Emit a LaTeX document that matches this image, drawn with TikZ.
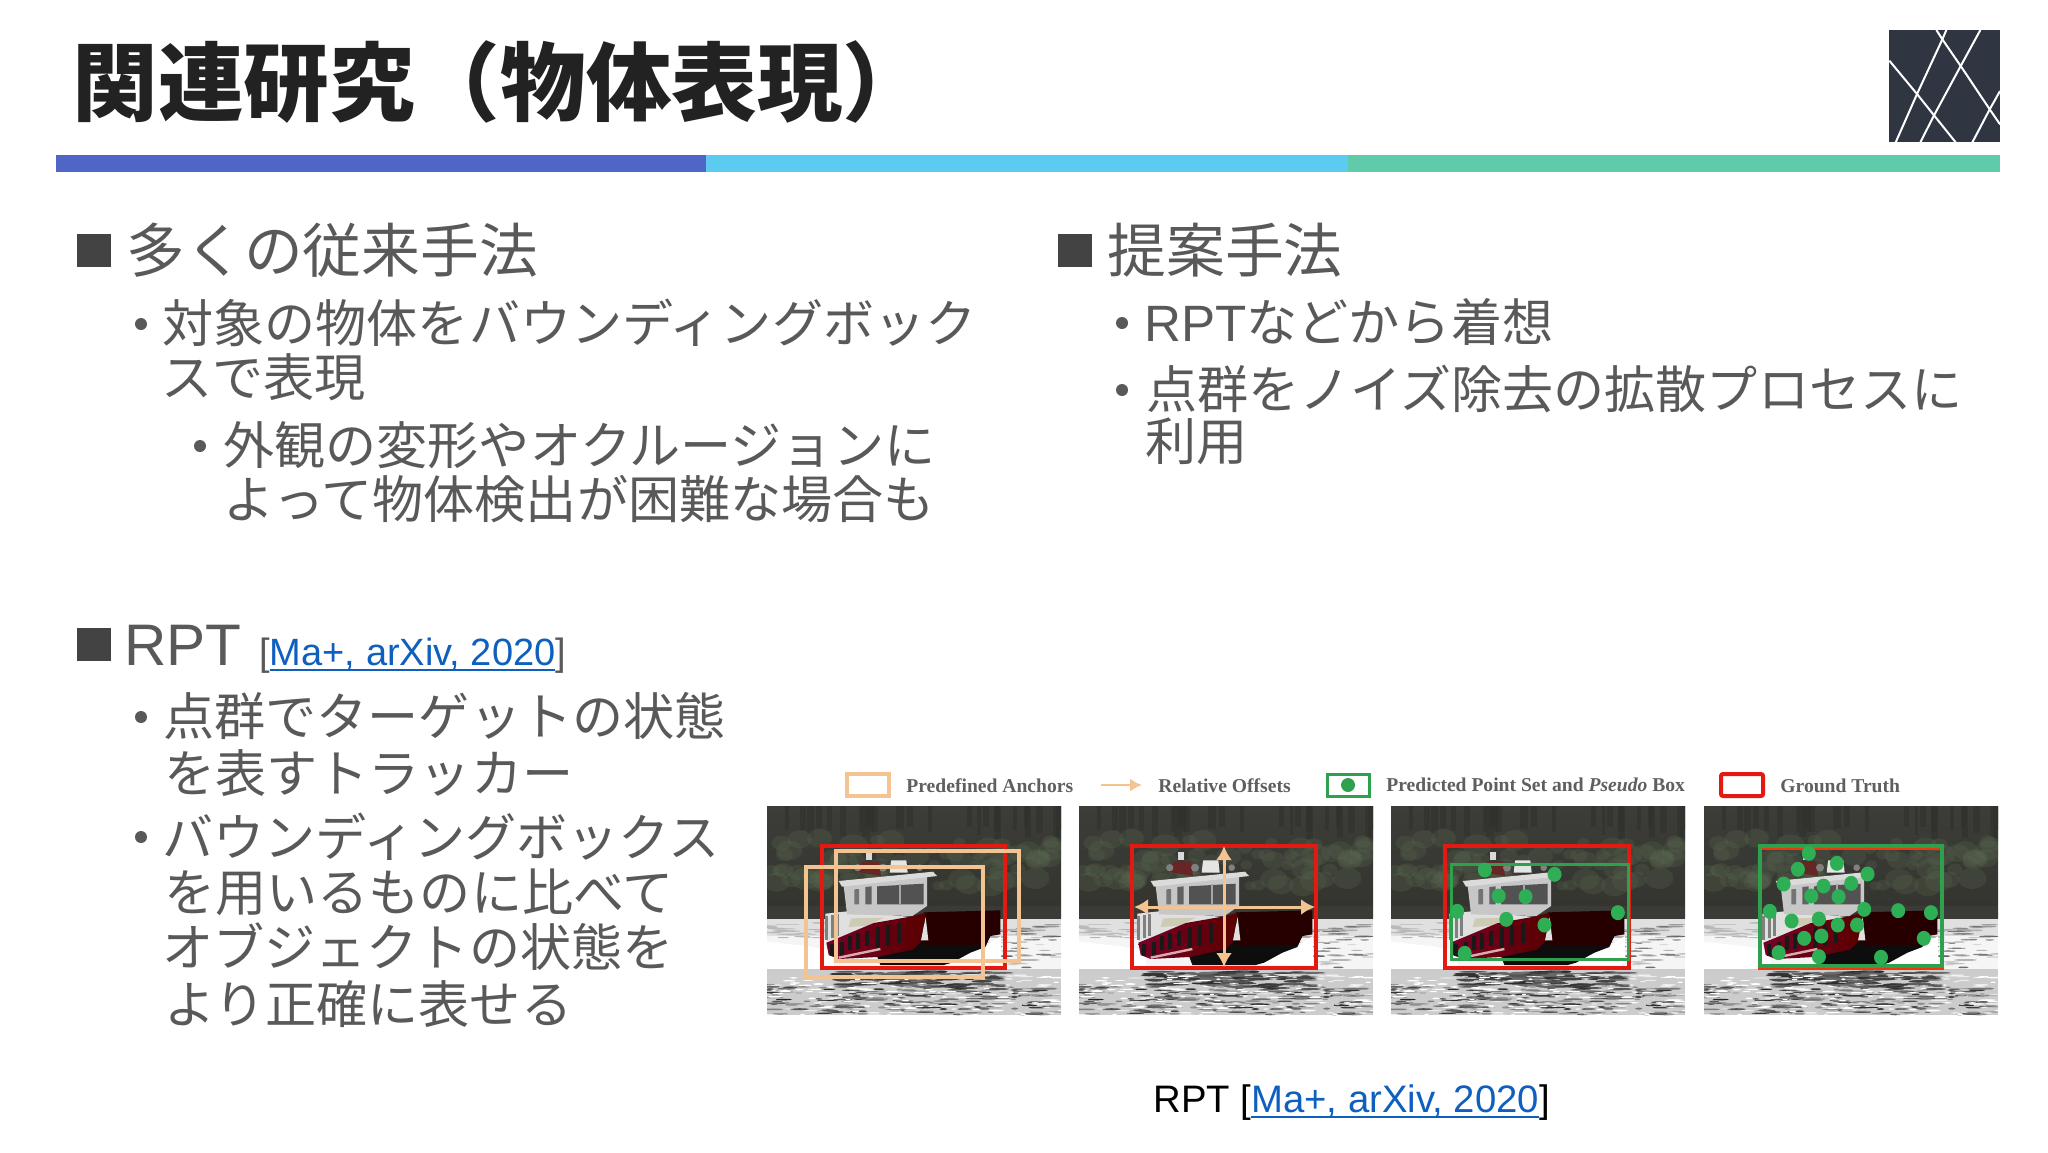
\documentclass[tikz,border=0pt]{standalone}
\usepackage{fontspec}
\usetikzlibrary{arrows.meta}
\setmainfont{Liberation Sans}
\newfontfamily\cjk{Noto Sans CJK JP}
\newfontfamily\lat{Liberation Sans}
\newfontfamily\serifl{Liberation Serif}
\definecolor{bodygray}{HTML}{595959}
\definecolor{sqgray}{HTML}{434343}
\definecolor{titleblack}{HTML}{222222}
\definecolor{barblue}{HTML}{4F66C6}
\definecolor{barsky}{HTML}{5CCBF0}
\definecolor{barteal}{HTML}{5FCBAB}
\definecolor{linkblue}{HTML}{0F5FBE}
\definecolor{peach}{HTML}{F3C391}
\definecolor{boxred}{HTML}{E31A12}
\definecolor{boxgreen}{HTML}{2FA04E}
\definecolor{dotgreen}{HTML}{2FAF55}
\definecolor{logobg}{HTML}{2F3642}
\definecolor{legendgray}{HTML}{5F5F5F}
\definecolor{foresttop}{HTML}{3C3D38}
\definecolor{forestmid}{HTML}{4A5043}
\definecolor{forestlow}{HTML}{34342F}
\definecolor{forestblob}{HTML}{5A6A50}
\definecolor{trunk}{HTML}{30312D}
\definecolor{shore}{HTML}{3A3A36}
\newcommand{\lnk}[2]{\setbox0=\hbox{#2}{\color{linkblue}\rlap{\rule[#1]{\wd0}{1pt}}#2}}
\tikzset{
  txt/.style={inner sep=0pt,anchor=base west,text=bodygray},
  lvlone/.style={txt,font=\cjk\fontsize{29.4pt}{30pt}\selectfont},
  lvltwo/.style={txt,font=\cjk\fontsize{25.55pt}{30pt}\selectfont},
  sq/.style={fill=sqgray,draw=none},
  bul/.style={circle,fill=bodygray,draw=none,inner sep=0pt,minimum size=6pt},
  leg/.style={inner sep=0pt,anchor=base west,text=legendgray,font=\serifl\bfseries\fontsize{9.8pt}{11pt}\selectfont},
  redbox/.style={draw=boxred,line width=2pt},
  peachbox/.style={draw=peach,line width=1.6pt},
  greenbox/.style={draw=boxgreen,line width=1.5pt},
  peacharrow/.style={draw=peach,line width=1.5pt,{Latex[length=7pt,width=8pt]}-{Latex[length=7pt,width=8pt]}},
  logoline/.style={draw=white,line width=1pt},
}
\newcommand{\boatscene}[1]{%
\begin{scope}[shift={(#1,821)},x=.16667pt,y=-.16667pt]
\begin{scope}
\clip (0,-45) rectangle (882,582);
% forest
\shade[top color=foresttop,middle color=forestmid,bottom color=forestlow] (0,-45) rectangle (882,290);
\pgfmathsetseed{7}
\foreach \i in {1,...,26}{
  \pgfmathsetmacro\tx{rnd*882}
  \fill[trunk,opacity=.6] (\tx,-45) rectangle ++(10+rnd*14,60+rnd*50);
}
\foreach \i in {1,...,70}{
  \pgfmathsetmacro\tx{rnd*882}
  \pgfmathsetmacro\ty{50+rnd*150}
  \pgfmathsetmacro\tr{18+rnd*26}
  \fill[forestblob,opacity=.25] (\tx,\ty) ellipse ({\tr} and {\tr*.75});
}
\fill[shore] (0,255) rectangle (882,298);
% water
\fill[black!12] (0,295) rectangle (882,450);
\fill[black!4] (0,345) -- (882,345) -- (882,445) -- (0,445) -- cycle;
\fill[white] (0,362) -- (120,375) -- (200,390) -- (200,445) -- (0,445) -- cycle;
\fill[black!20] (0,445) rectangle (882,582);
\foreach \i in {1,...,70}{
  \pgfmathsetmacro\tx{620+rnd*262}
  \pgfmathsetmacro\ty{305+rnd*135}
  \pgfmathsetmacro\tk{20+rnd*45}
  \fill[black!\tk] (\tx,\ty) ellipse ({10+rnd*24} and {1+rnd*1.8});
}
\foreach \i in {1,...,20}{
  \pgfmathsetmacro\tx{rnd*180}
  \pgfmathsetmacro\ty{305+rnd*45}
  \fill[black!28] (\tx,\ty) ellipse ({14+rnd*30} and {1+rnd*1.5});
}
\foreach \i in {1,...,110}{
  \pgfmathsetmacro\tx{220+rnd*480}
  \pgfmathsetmacro\ty{452+rnd*45}
  \pgfmathsetmacro\tk{55+rnd*30}
  \fill[black!\tk] (\tx,\ty) ellipse ({14+rnd*30} and {1.5+rnd*3});
}
\foreach \i in {1,...,210}{
  \pgfmathsetmacro\tx{rnd*882}
  \pgfmathsetmacro\ty{490+rnd*92}
  \pgfmathsetmacro\tk{35+rnd*50}
  \fill[black!\tk] (\tx,\ty) ellipse ({8+rnd*24} and {1+rnd*2.2});
}
\foreach \i in {1,...,150}{
  \pgfmathsetmacro\tx{rnd*882}
  \pgfmathsetmacro\ty{460+rnd*122}
  \fill[white] (\tx,\ty) ellipse ({6+rnd*20} and {1+rnd*1.6});
}
% spray behind stern
\fill[white] (530,430) -- (660,372) -- (702,345) -- (702,432) -- cycle;
% hull shadow
\fill[black!95] (330,405) -- (470,350) -- (670,345) -- (655,378) -- (610,395) -- (555,425) -- (530,432) -- (340,432) -- cycle;
% dark hull
\fill[black!85!red] (470,274) -- (700,268) -- (700,340) -- (670,345) -- (655,372) -- (470,372) -- cycle;
% bow and cream deck
\fill[black!12] (175,278) -- (250,270) -- (430,288) -- (320,306) -- (225,345) -- (178,362) -- cycle;
\fill[yellow!35!black!35] (252,292) -- (350,290) -- (300,314) -- (245,318) -- cycle;
\draw[black!50,line width=1.5pt] (178,285) -- (178,358) (195,282) -- (195,350) (212,280) -- (212,345);
% red side
\shade[left color=red!55!black!85!blue,right color=red!35!black] (178,365) -- (225,346) -- (320,306) -- (430,287) -- (475,275) -- (465,358) -- (440,385) -- (330,408) -- (215,414) -- (185,402) -- cycle;
\foreach \sx/\st/\sb in {190/370/405,218/362/405,242/345/388,268/335/385,295/330/375,326/318/380,357/312/375,390/305/365}{
  \fill[black!90] (\sx,\st) rectangle ++(12,\sb-\st);
}
\draw[red!25!white!70!gray,line width=1.2pt] (215,410) -- (340,384);
\fill[black!12] (462,358) -- (484,358) -- (476,288) -- cycle;
% cabin
\fill[black!22] (230,195) -- (480,162) -- (480,255) -- (436,285) -- (240,280) -- cycle;
\fill[black!14] (215,180) -- (498,152) -- (510,165) -- (225,197) -- cycle;
\fill[black!68] (330,196) -- (470,188) -- (470,250) -- (330,250) -- cycle;
\fill[black!62] (295,198) -- (314,196) -- (314,250) -- (295,250) -- cycle;
\fill[black!55] (262,205) -- (276,204) -- (276,250) -- (262,250) -- cycle;
\fill[black!35] (395,190) rectangle (402,250);
% rooftop
\fill[red!30!black!85] (265,152) -- (285,122) -- (335,120) -- (342,165) -- cycle;
\fill[black!10] (368,155) -- (372,118) -- (418,118) -- (422,155) -- cycle;
\fill[black!15] (298,92) rectangle (316,118);
\fill[black!50] (272,140) circle (11);
\fill[black!50] (348,140) circle (12);
\fill[black!50] (458,140) circle (10);
\end{scope}
\end{scope}}
\begin{document}
\begin{tikzpicture}[x=.5pt,y=-.5pt]
\useasboundingbox[fill=white] (0,0) rectangle (2048,1152);
% title
\node[txt,anchor=base west,text=titleblack,font=\cjk\bfseries\fontsize{42.8pt}{46pt}\selectfont] (title) at (72,114) {関連研究（物体表現）};
% bars
\fill[barblue] (56,155) rectangle (706,172);
\fill[barsky] (706,155) rectangle (1348,172);
\fill[barteal] (1348,155) rectangle (2000,172);
% logo
\begin{scope}[shift={(1848,10)},x=.16667pt,y=-.16667pt]
\fill[logobg] (124,60) rectangle (456,397);
\draw[logoline] (265,60) -- (283,88) -- (338,168) -- (425,298) -- (456,343);
\draw[logoline] (295,60) -- (283,88) -- (207,252) -- (143,397);
\draw[logoline] (397,60) -- (338,168) -- (258,316) -- (217,397);
\draw[logoline] (124,152) -- (207,252) -- (258,316) -- (323,397);
\draw[logoline] (456,243) -- (425,298) -- (373,397);
\end{scope}
% left upper
\fill[sq] (77,234) rectangle (111,267);
\node[lvlone] (a1) at (126,272) {多くの従来手法};
\node[bul] (b1) at (141,324) {};
\node[lvltwo] (a2) at (162,342) {対象の物体をバウンディングボック};
\node[lvltwo] (a3) at (161,396) {スで表現};
\node[bul] (b2) at (200,446) {};
\node[lvltwo] (a4) at (223,464) {外観の変形やオクルージョンに};
\node[lvltwo] (a5) at (223,518) {よって物体検出が困難な場合も};
% right upper
\fill[sq] (1058,234) rectangle (1092,267);
\node[lvlone] (c1) at (1107,272) {提案手法};
\node[bul] (b3) at (1122,323) {};
\node[lvltwo] (c2) at (1144,341) {{\lat RPT}などから着想};
\node[bul] (b4) at (1122,390) {};
\node[lvltwo] (c3) at (1146,408) {点群をノイズ除去の拡散プロセスに};
\node[lvltwo] (c4) at (1145,460) {利用};
% left lower
\fill[sq] (77,628) rectangle (111,661);
\node[txt,font=\lat\fontsize{29.3pt}{30pt}\selectfont] (d0) at (124,665) {RPT};
\node[txt,font=\lat\fontsize{19pt}{22pt}\selectfont] (d0b) at (259,665) {[\lnk{-3pt}{Ma+, arXiv, 2020}]};
\node[bul] (b5) at (141,717) {};
\node[lvltwo] (d1) at (163,735) {点群でターゲットの状態};
\node[lvltwo] (d2) at (164,792) {を表すトラッカー};
\node[bul] (b6) at (141,837) {};
\node[lvltwo] (d3) at (162,856) {バウンディングボックス};
\node[lvltwo] (d4) at (164,911) {を用いるものに比べて};
\node[lvltwo] (d5) at (162,966) {オブジェクトの状態を};
\node[lvltwo] (d6) at (164,1023) {より正確に表せる};
% caption
\node[inner sep=0pt,anchor=base west,text=black,font=\lat\fontsize{19.15pt}{22pt}\selectfont] (cap) at (1153,1112) {RPT [\lnk{-3pt}{Ma+, arXiv, 2020}]};
% legend
\draw[peachbox] (847,774) rectangle (889,796);
\node[leg] (l1) at (906,792) {Predefined Anchors};
\coordinate (la) at (1101,785);
\coordinate (lb) at (1142,785);
\draw[draw=peach,line width=1.3pt,-{Latex[length=6pt,width=6.5pt]}] (la) -- (lb);
\node[leg] (l2) at (1158,792) {Relative Offsets};
\draw[greenbox] (1327,774) rectangle (1369,796);
\fill[boxgreen] (1348,785) circle (7);
\node[leg] (l3) at (1386,791) {Predicted Point Set and \textit{Pseudo} Box};
\draw[draw=boxred,line width=2pt,rounded corners=1pt] (1721,774) rectangle (1763,796);
\node[leg] (l4) at (1780,792) {Ground Truth};
% photographs
\boatscene{767}
\boatscene{1079}
\boatscene{1391}
\boatscene{1704}
% panel 1
\draw[redbox] (822,846) rectangle (1005,968);
\draw[peachbox] (836,851) rectangle (1019,961);
\draw[peachbox] (806,867) rectangle (983,977);
% panel 2
\draw[redbox] (1132,846) rectangle (1316,968);
\coordinate (vt) at (1224,846);
\coordinate (vb) at (1224,967);
\coordinate (hl) at (1134,907);
\coordinate (hr) at (1315,907);
\draw[peacharrow] (vt) -- (vb);
\draw[peacharrow] (hl) -- (hr);
% panel 3
\draw[redbox] (1445,846) rectangle (1629,968);
\draw[greenbox] (1451,864) rectangle (1628,959);
\foreach \x/\y in {226/360,392/373,259/438,323/440,160/484,543/488,277/508,368/525,178/610}{
  \fill[dotgreen] (1390+\x/2.383,750+\y/3) ellipse (7 and 7.5);
}
% panel 4
\draw[draw=boxred!70!orange,line width=2pt] (1760,848) rectangle (1942,968);
\draw[greenbox,line width=2pt] (1760,846) rectangle (1942,966);
\foreach \x/\y in {998/310,1065/340,972/358,1138/372,938/402,1033/408,1099/400,1004/438,1069/440,905/484,1130/478,1211/482,1289/488,957/513,1022/507,1067/525,1113/525,1028/558,987/565,1272/565,926/608,1022/620,1170/622}{
  \fill[dotgreen] (1390+\x/2.383,750+\y/3) ellipse (7 and 7.5);
}
\end{tikzpicture}
\end{document}
